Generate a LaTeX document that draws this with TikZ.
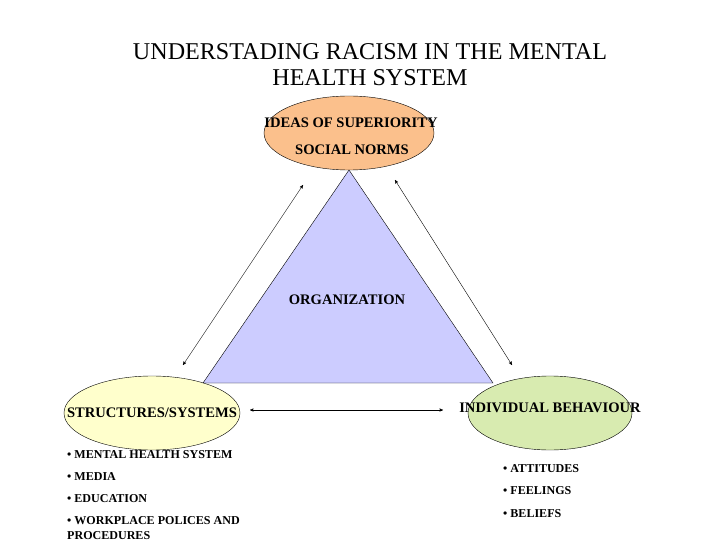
\documentclass[tikz,border=0pt]{standalone}
\usepackage{fontspec}
\setmainfont{Liberation Serif}
\usetikzlibrary{arrows,positioning,shapes.geometric}
\definecolor{ideafill}{HTML}{FBC08C}
\definecolor{orgfill}{HTML}{CCCCFF}
\definecolor{strucfill}{HTML}{FFFFCC}
\definecolor{indivfill}{HTML}{D8EBB0}
\tikzstyle{oval} = [draw, ellipse, inner sep=0pt]
\tikzstyle{label} = [font=\bfseries\fontsize{14.5}{16}\selectfont, inner sep=0pt]
\tikzstyle{item} = [font=\bfseries\fontsize{12}{14}\selectfont, inner sep=0pt, anchor=west]
\begin{document}
\begin{tikzpicture}[x=0.035cm,y=-0.035cm,>=stealth',font=\small]
  \useasboundingbox (0,0) rectangle (728,546);

  \node (title1) [font=\fontsize{24}{26}\selectfont] at (370,52) {UNDERSTADING RACISM IN THE MENTAL};
  \node (title2) [font=\fontsize{24}{26}\selectfont] at (370,78) {HEALTH SYSTEM};

  % ovals
  \node (ideas) [oval,fill=ideafill,minimum width=5.95cm,minimum height=2.59cm] at (349,133) {};
  \node (struc) [oval,fill=strucfill,minimum width=6.16cm,minimum height=2.59cm] at (152,413) {};
  \node (indiv) [oval,fill=indivfill,minimum width=5.74cm,minimum height=2.59cm] at (550,413) {};

  % triangle
  \draw[fill=orgfill] (349,170) coordinate (apex) -- (493,383) coordinate (br) -- (203,383) coordinate (bl) -- cycle;
  \node (org) [label] at (347,300) {ORGANIZATION};

  \node (ideas_t1) [label] at (351,123) {IDEAS OF SUPERIORITY};
  \node (ideas_t2) [label] at (352,150) {SOCIAL NORMS};
  \node (struc_t) [label] at (152,413) {STRUCTURES/SYSTEMS};
  \node (indiv_t) [label] at (550,408) {INDIVIDUAL BEHAVIOUR};

  % arrows
  \coordinate (a1) at (303,185); \coordinate (b1) at (183,365);
  \coordinate (a2) at (395,180); \coordinate (b2) at (512,365);
  \coordinate (a3) at (250,410); \coordinate (b3) at (443,410);
  \draw[<->] (a1) -- (b1);
  \draw[<->] (a2) -- (b2);
  \draw[<->] (a3) -- (b3);

  % lists
  \node (s1) [item] at (67,455) {• MENTAL HEALTH SYSTEM};
  \node (s2) [item] at (67,477) {• MEDIA};
  \node (s3) [item] at (67,499) {• EDUCATION};
  \node (s4) [item] at (67,521) {• WORKPLACE POLICES AND};
  \node (s5) [item] at (67,536) {PROCEDURES};
  \node (i1) [item] at (503,469) {• ATTITUDES};
  \node (i2) [item] at (503,491) {• FEELINGS};
  \node (i3) [item] at (503,514) {• BELIEFS};
\end{tikzpicture}
\end{document}
